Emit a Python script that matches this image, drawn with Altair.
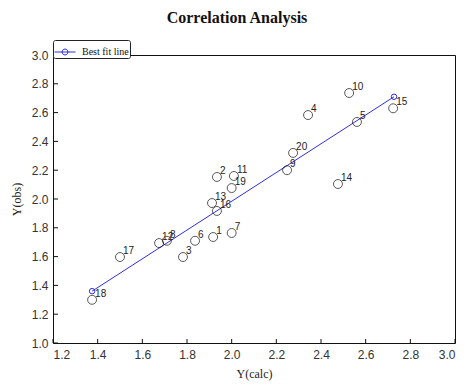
import altair as alt
import pandas as pd

# Observed points
ids = [1, 2, 3, 4, 5, 6, 7, 8, 9, 10, 11, 12, 13, 14, 15, 16, 17, 18, 19, 20]
y_calc = [1.917, 1.934, 1.782, 2.342, 2.561, 1.836, 2.000, 1.710, 2.248, 2.526,
          2.010, 1.675, 1.912, 2.476, 2.723, 1.934, 1.500, 1.375, 2.000, 2.275]
y_obs = [1.736, 2.153, 1.597, 2.583, 2.535, 1.710, 1.764, 1.710, 2.200, 2.736,
         2.160, 1.694, 1.972, 2.104, 2.630, 1.917, 1.597, 1.300, 2.076, 2.320]

# Best fit line endpoints
fit_x = [1.375, 2.727]
fit_y = [1.360, 2.710]
fit_name = ["Best fit line", "Best fit line"]

x_ticks = [1.2, 1.4, 1.6, 1.8, 2.0, 2.2, 2.4, 2.6, 2.8, 3.0]
y_ticks = [1.0, 1.2, 1.4, 1.6, 1.8, 2.0, 2.2, 2.4, 2.6, 2.8, 3.0]

pts = pd.DataFrame({"id": [str(i) for i in ids], "x": y_calc, "y": y_obs})
fit = pd.DataFrame({"x": fit_x, "y": fit_y, "series": fit_name})
xt = pd.DataFrame({"v": x_ticks})
yt = pd.DataFrame({"v": y_ticks})

W, H = 402, 288
xs = alt.Scale(domain=[1.2, 3.0], nice=False, zero=False)
ys = alt.Scale(domain=[1.0, 3.0], nice=False, zero=False)

xaxis = alt.Axis(values=x_ticks, format=".1f", title="Y(calc)", tickSize=0,
                 labelPadding=6, titlePadding=8, grid=False, labelOverlap=False)
yaxis = alt.Axis(values=y_ticks, format=".1f", title="Y(obs)", tickSize=0,
                 labelPadding=5, titlePadding=8, grid=False, labelOverlap=False)

legend_sym = "M-1,0H1M0.28,0A0.28,0.28,0,1,1,-0.28,0A0.28,0.28,0,1,1,0.28,0"

line = alt.Chart(fit).mark_line(strokeWidth=1, point=alt.OverlayMarkDef(
    filled=False, size=30, strokeWidth=1, shape="circle")).encode(
    x=alt.X("x:Q", scale=xs, axis=xaxis),
    y=alt.Y("y:Q", scale=ys, axis=yaxis),
    color=alt.Color("series:N", scale=alt.Scale(range=["#2f2fe0"]),
                    legend=alt.Legend(title=None, orient="none", legendX=0, legendY=-15,
                                      symbolType=legend_sym, symbolSize=441,
                                      symbolStrokeWidth=1, symbolFillColor="transparent",
                                      labelFont="Liberation Serif", labelFontSize=10,
                                      labelColor="#111", labelOffset=6,
                                      strokeColor="#222", cornerRadius=2, padding=1,
                                      fillColor="white"))
)

points = alt.Chart(pts).mark_point(shape="circle", filled=False, size=80,
                                   color="#111", strokeWidth=1).encode(
    x=alt.X("x:Q", axis=xaxis), y=alt.Y("y:Q", axis=yaxis))

labels = alt.Chart(pts).mark_text(align="left", baseline="middle", dx=3, dy=-6,
                                  font="Liberation Sans", fontSize=10, color="#222").encode(
    x=alt.X("x:Q", axis=xaxis), y=alt.Y("y:Q", axis=yaxis), text="id:N")

xtick = alt.Chart(xt).mark_rule(color="#111", strokeWidth=1).encode(
    x=alt.X("v:Q", axis=xaxis), y=alt.value(H), y2=alt.value(H - 4))
ytick = alt.Chart(yt).mark_rule(color="#111", strokeWidth=1).encode(
    y=alt.Y("v:Q", axis=yaxis), x=alt.value(0), x2=alt.value(5))

chart = alt.layer(line, points, labels, xtick, ytick).properties(
    width=W, height=H,
    title=alt.TitleParams("Correlation Analysis", font="Liberation Serif", fontSize=16,
                          fontWeight="bold", color="#111", anchor="middle", dx=-17, offset=14),
    autosize=alt.AutoSizeParams(type="none"),
    padding={"left": 45, "top": 47, "right": 10, "bottom": 41},
).configure_view(stroke="#111", strokeWidth=1).configure_axis(
    domain=False, labelFont="Liberation Sans", labelFontSize=12, labelColor="#333",
    labelOverlap=False,
    titleFont="Liberation Serif", titleFontSize=12, titleFontWeight="normal", titleColor="#222"
)

chart.save("out.html", embed_options={"renderer": "svg", "actions": False})
